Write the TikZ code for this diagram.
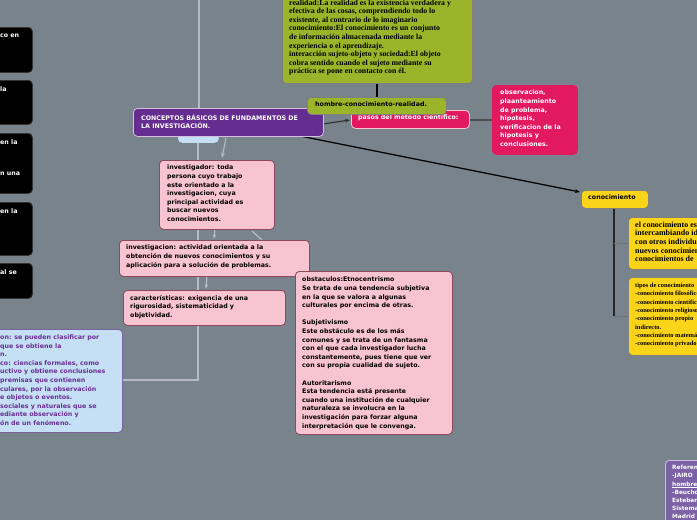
\documentclass[tikz,border=0pt]{standalone}
\usepackage{fontspec}
\usetikzlibrary{arrows.meta}
\setmainfont{DejaVu Sans}
\newfontfamily\serifb{Liberation Serif}
\definecolor{bg}{HTML}{78838C}
\definecolor{pk}{HTML}{F9C4D2}
\definecolor{pkb}{HTML}{8A4A5C}
\definecolor{grn}{HTML}{9BB42A}
\definecolor{mag}{HTML}{E3195F}
\definecolor{pur}{HTML}{662D91}
\definecolor{yel}{HTML}{FAD419}
\definecolor{lb}{HTML}{C5E0F4}
\definecolor{lbp}{HTML}{6A2F92}
\definecolor{refp}{HTML}{7B62A6}
\definecolor{lin}{HTML}{B5BBC0}
\begin{document}
\begin{tikzpicture}[x=1pt,y=-1pt,
 box/.style={rounded corners=4pt,line width=0.8pt},
 txt/.style={anchor=north west,inner sep=0pt,font=\fontsize{6.3}{8.6}\selectfont\bfseries,align=left},
 stxt/.style={anchor=north west,inner sep=0pt,font=\fontsize{7.8}{8.6}\selectfont\serifb\bfseries,align=left},
 gl/.style={draw=lin,line width=1.2pt},
 arr/.style={-{Stealth[length=5pt]}}]
\useasboundingbox (0,0) rectangle (697,520);
\fill[bg] (0,0) rectangle (697,520);
\clip (0,0) rectangle (697,520);
% gray connectors
\draw[gl] (199,0) -- (199,136);
\draw[gl] (198,141) -- (198,380) -- (122,380);
\draw[gl,arr] (226,138) -- (222,158);
\draw[gl,arr] (215,229) -- (214,239);
\draw[gl] (252,231) -- (262,240);
\draw[gl,arr] (207,276) -- (206,289);
% black connectors
\draw[line width=1.2pt] (377,83) -- (377,97);
\draw[line width=1.2pt,draw=black!80,arr] (323,124) -- (350,120);
\draw[line width=1.2pt,draw=black!70] (469,120) -- (492,120);
\draw[line width=1.2pt,arr] (300,136) -- (580,192);
\draw[line width=1.6pt,draw=black!85] (614,208) -- (614,316);
\draw[line width=1pt,draw=black!55] (614,243) -- (628,243) (614,316) -- (628,316);
% left black boxes
\foreach \a/\b/\t in {27/72/{co en},80/124/{la},133/193/{en la\\[22pt]n una},202/255/{en la},263/298/{al se}}{
 \node[box,fill=black,draw=black!80,anchor=north west,minimum width=42pt,minimum height={\b-\a},inner sep=0] (k\a) at (-10,\a) {};
 \node[txt,text=white] (t\a) at (0,\a+7) {\t};}
% central
\node[box,fill=lb,draw=lb,anchor=north west,minimum width=40pt,minimum height=8pt,inner sep=0] (small) at (178,134) {};
\node[box,fill=pur,draw=white!70!pur,anchor=north west,minimum width=190pt,minimum height=28pt,inner sep=0] (cen) at (133,108) {};
\node[txt,text=white] (cent) at (141,114) {CONCEPTOS BÁSICOS DE FUNDAMENTOS DE\\LA INVESTIGACIÓN.};
% green big
\node[box,fill=grn,draw=black!50,anchor=north west,minimum width=190pt,minimum height=93pt,inner sep=0] (gb) at (282,-10) {};
\node[stxt] (gbt) at (289,-0.5) {realidad:La realidad es la existencia verdadera y\\efectiva de las cosas, comprendiendo todo lo\\existente, al contrario de lo imaginario\\conocimiento:El conocimiento es un conjunto\\de información almacenada mediante la\\experiencia o el aprendizaje.\\interacción sujeto-objeto y sociedad:El objeto\\cobra sentido cuando el sujeto mediante su\\práctica se pone en contacto con él.};
\node[box,fill=mag,draw=pk,anchor=north west,minimum width=118pt,minimum height=18pt,inner sep=0] (pasos) at (351,110) {};
\node[txt,text=white] (pasost) at (358,114.5) {pasos del metodo cientifico:};
\node[box,fill=grn,draw=black!50,anchor=north west,minimum width=139pt,minimum height=17pt,inner sep=0] (gs) at (307,97) {};
\node[txt] (gst) at (315,102) {hombre-conocimiento-realidad.};
\node[box,fill=mag,draw=mag,anchor=north west,minimum width=85pt,minimum height=69pt,inner sep=0] (obs) at (492,85) {};
\node[txt,text=white] (obst) at (500,90) {observacion,\\plaanteamiento\\de problema,\\hipotesis,\\verificacion de la\\hipotesis y\\conclusiones.};
% conocimiento
\node[box,fill=yel,draw=black!50,anchor=north west,minimum width=67pt,minimum height=18pt,inner sep=0] (con) at (581,190) {};
\node[txt] (cont) at (588,195) {conocimiento};
\node[box,fill=yel,draw=black!50,anchor=north west,minimum width=80pt,minimum height=52pt,inner sep=0] (y1) at (628,217) {};
\node[stxt,font=\fontsize{8}{8.6}\selectfont\serifb\bfseries] (y1t) at (635,221.5) {el conocimiento es\\intercambiando ideas\\con otros individuos\\nuevos conocimientos\\conocimientos de};
\node[box,fill=yel,draw=black!50,anchor=north west,minimum width=80pt,minimum height=78pt,inner sep=0] (y2) at (628,277) {};
\node[stxt,font=\fontsize{6.4}{8.3}\selectfont\serifb\bfseries] (y2t) at (635,283) {tipos de conocimiento\\-conocimiento filosófico\\-conocimiento científico\\-conocimiento religioso\\-conocimiento propio\\indirecto.\\-conocimiento matemático\\-conocimiento privado};
% pink nodes
\node[box,fill=pk,draw=pkb,anchor=north west,minimum width=115pt,minimum height=69pt,inner sep=0] (inv) at (159,160) {};
\node[txt] (invt) at (167,165) {investigador: toda\\persona cuyo trabajo\\este orientado a la\\investigacion, cuya\\principal actividad es\\buscar nuevos\\conocimientos.};
\node[box,fill=pk,draw=pkb,anchor=north west,minimum width=190pt,minimum height=36pt,inner sep=0] (ivg) at (119,240) {};
\node[txt] (ivgt) at (126,245) {investigacion: actividad orientada a la\\obtención de nuevos conocimientos y su\\aplicación para a solución de problemas.};
\node[box,fill=pk,draw=pkb,anchor=north west,minimum width=162pt,minimum height=35pt,inner sep=0] (car) at (123,290) {};
\node[txt] (cart) at (130,295) {características: exigencia de una\\rigurosidad, sistematicidad y\\objetividad.};
\node[box,fill=pk,draw=pkb,anchor=north west,minimum width=157pt,minimum height=163pt,inner sep=0] (ob) at (295,271) {};
\node[txt] (obt) at (302,277) {obstaculos:Etnocentrismo\\Se trata de una tendencia subjetiva\\en la que se valora a algunas\\culturales por encima de otras.\\[8.6pt]Subjetivismo\\Este obstáculo es de los más\\comunes y se trata de un fantasma\\con el que cada investigador lucha\\constantemente, pues tiene que ver\\con su propia cualidad de sujeto.\\[8.6pt]Autoritarismo\\Esta tendencia está presente\\cuando una institución de cualquier\\naturaleza se involucra en la\\investigación para forzar alguna\\interpretación que le convenga.};
% left light blue
\node[box,fill=lb,draw=refp,anchor=north west,minimum width=132pt,minimum height=103pt,inner sep=0] (lbb) at (-10,329) {};
\node[txt,text=lbp] (lbt) at (0,334.5) {on: se pueden clasificar por\\que se obtiene la\\n.\\co: ciencias formales, como\\uctivo y obtiene conclusiones\\ premisas que contienen\\culares, por la observación\\e objetos o eventos.\\ sociales y naturales que se\\ediante observación y\\ón de un fenómeno.};
% references
\node[box,fill=refp,draw=white!60!refp,anchor=north west,minimum width=45pt,minimum height=70pt,inner sep=0] (ref) at (665,460) {};
\node[txt,text=white,font=\fontsize{5.8}{8.2}\selectfont\bfseries] (reft) at (672,465) {Referencias\\-JAIRO\\\underline{hombre}\\-Beuchot\\Esteban\\Sistema\\Madrid};
\end{tikzpicture}
\end{document}
